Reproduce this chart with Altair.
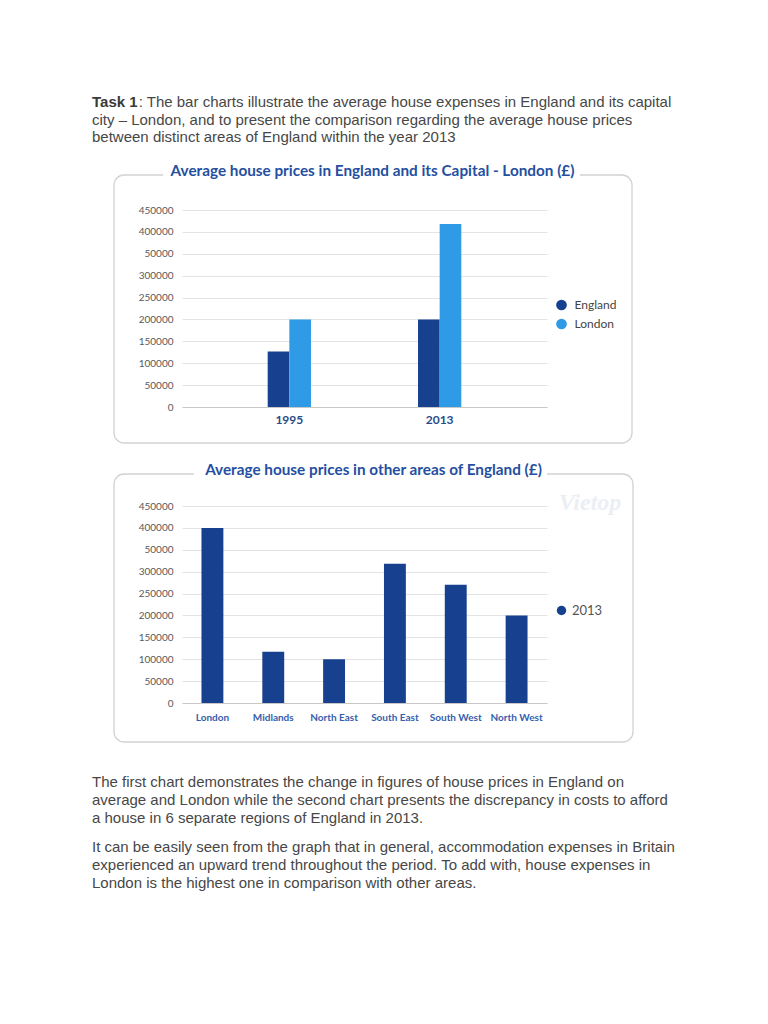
import altair as alt
import pandas as pd

# ---------------- data ----------------
years = ["1995", "2013"]
areas = ["England", "London"]
england_prices = [127000, 200000]
london_prices = [200000, 418000]

regions = ["London", "Midlands", "North East", "South East", "South West", "North West"]
region_prices = [400000, 117000, 100000, 318000, 270000, 200000]
region_series = ["2013"]

y_ticks = [0, 50000, 100000, 150000, 200000, 250000, 300000, 350000, 400000, 450000]
y_tick_labels = ["0", "50000", "100000", "150000", "200000", "250000", "300000", "50000", "400000", "450000"]

title1 = "Average house prices in England and its Capital - London (£)"
title2 = "Average house prices in other areas of England (£)"

header_bold = "Task 1"
header_lines = [
    ": The bar charts illustrate the average house expenses in England and its capital",
    "city – London, and to present the comparison regarding the average house prices",
    "between distinct areas of England within the year 2013",
]
footer_par1 = [
    "The first chart demonstrates the change in figures of house prices in England on",
    "average and London while the second chart presents the discrepancy in costs to afford",
    "a house in 6 separate regions of England in 2013.",
]
footer_par2 = [
    "It can be easily seen from the graph that in general, accommodation expenses in Britain",
    "experienced an upward trend throughout the period. To add with, house expenses in",
    "London is the highest one in comparison with other areas.",
]

# ---------------- styles ----------------
DARK = "#17418f"
LIGHT = "#2f9be6"
TITLE_C = "#254fa0"
W, H = 365, 197
BODY_FONT = "Liberation Sans"
CHART_FONT = "Lato"

label_expr = "[" + ",".join("'%s'" % s for s in y_tick_labels) + "][round(datum.value / 50000)]"


def text_layer(text, x, y, size=15, color="#474747", weight="normal", font=BODY_FONT,
               align="left", style="normal"):
    return alt.Chart(alt.Data(values=[{"t": text}])).mark_text(
        align=align, baseline="middle", font=font, fontSize=size,
        fontWeight=weight, color=color, fontStyle=style
    ).encode(x=alt.value(x), y=alt.value(y), text="t:N")


def rect_layer(x1, x2, y1, y2, **kw):
    return alt.Chart(alt.Data(values=[{"a": 1}])).mark_rect(**kw).encode(
        x=alt.value(x1), x2=alt.value(x2), y=alt.value(y1), y2=alt.value(y2)
    )


def y_enc():
    return alt.Y(
        "price:Q",
        scale=alt.Scale(domain=[0, 450000], nice=False),
        axis=alt.Axis(
            title=None, values=y_ticks, labelExpr=label_expr, ticks=False, domain=False,
            gridColor="#e3e3e3", gridWidth=1, labelFont=CHART_FONT, labelFontSize=10,
            labelColor="#595959", labelPadding=9,
        ),
    )


# ---------------- chart 1 ----------------
df1 = pd.DataFrame({
    "year": years + years,
    "area": [areas[0]] * len(years) + [areas[1]] * len(years),
    "price": england_prices + london_prices,
})

bars1 = alt.Chart(df1).mark_bar().encode(
    x=alt.X(
        "year:N", sort=years,
        scale=alt.Scale(domain=years, paddingInner=0.712, paddingOuter=0.57),
        axis=alt.Axis(title=None, labelAngle=0, ticks=False, domainColor="#c8c8c8",
                      labelFont=CHART_FONT, labelFontSize=12, labelFontWeight="bold",
                      labelColor="#2b4a87", labelPadding=7),
    ),
    xOffset=alt.XOffset("area:N", scale=alt.Scale(domain=areas, paddingInner=0, paddingOuter=0)),
    y=y_enc(),
    color=alt.Color(
        "area:N", title=None,
        scale=alt.Scale(domain=areas, range=[DARK, LIGHT]),
        legend=alt.Legend(orient="none", legendX=373.5, legendY=89, symbolType="circle",
                          symbolSize=115, symbolStrokeWidth=0, labelFont=CHART_FONT,
                          labelFontSize=12, labelColor="#444444", labelOffset=7, rowPadding=7),
    ),
)

layers1 = [
    rect_layer(-174, -173, -202, -201, fill="white"),  # page anchor
    rect_layer(-68, 450, -35, 233, fill="white", fillOpacity=0, stroke="#d2d2d2",
               strokeWidth=1.3, cornerRadius=10),
    rect_layer(-19, 398, -39, -31, fill="white"),
    text_layer(title1, 190.5, -39, size=15.3, color=TITLE_C, weight="bold", font=CHART_FONT,
               align="center"),
    text_layer(header_bold, -90, -108, weight="bold", color="#3a3a3a"),
]
for i, line in enumerate(header_lines):
    x = -43.3 if i == 0 else -90
    layers1.append(text_layer(line, x, -108 + i * 17.5))
layers1.append(bars1)

chart1 = alt.layer(*layers1).properties(width=W, height=H)

# ---------------- chart 2 ----------------
df2 = pd.DataFrame({"region": regions, "price": region_prices,
                    "series": region_series * len(regions)})

bars2 = alt.Chart(df2).mark_bar().encode(
    x=alt.X(
        "region:N", sort=regions,
        scale=alt.Scale(domain=regions, paddingInner=0.64, paddingOuter=0.32),
        axis=alt.Axis(title=None, labelAngle=0, ticks=False, domainColor="#c8c8c8",
                      labelFont=CHART_FONT, labelFontSize=10, labelFontWeight="bold",
                      labelColor="#3560ad", labelPadding=9),
    ),
    y=y_enc(),
    color=alt.Color(
        "series:N", title=None,
        scale=alt.Scale(domain=region_series, range=[DARK]),
        legend=alt.Legend(orient="none", legendX=373, legendY=98, symbolType="circle",
                          symbolSize=90, symbolStrokeWidth=0, labelFont=CHART_FONT,
                          labelFontSize=13, labelColor="#555555", labelOffset=4),
    ),
)

layers2 = [
    rect_layer(-68, 451, -32, 236, fill="white", fillOpacity=0, stroke="#d2d2d2",
               strokeWidth=1.3, cornerRadius=10),
    rect_layer(12, 365, -36, -28, fill="white"),
    text_layer(title2, 191.5, -36, size=15.3, color=TITLE_C, weight="bold", font=CHART_FONT,
               align="center"),
    text_layer("Vietop", 408, -3, size=24, color="#ebeff5", weight="bold",
               font="Liberation Serif", align="center", style="italic"),
]
for i, line in enumerate(footer_par1):
    layers2.append(text_layer(line, -90, 275.7 + i * 18.1))
for i, line in enumerate(footer_par2):
    layers2.append(text_layer(line, -90, 340.7 + i * 18.1))
layers2.append(bars2)

chart2 = alt.layer(*layers2).properties(width=W, height=H)

chart = (
    alt.vconcat(chart1, chart2, spacing=99, bounds="flush")
    .resolve_scale(color="independent")
    .properties(padding=0, background="white")
    .configure_view(strokeWidth=0)
)

chart.save("out.html", embed_options={"renderer": "svg", "actions": False})
